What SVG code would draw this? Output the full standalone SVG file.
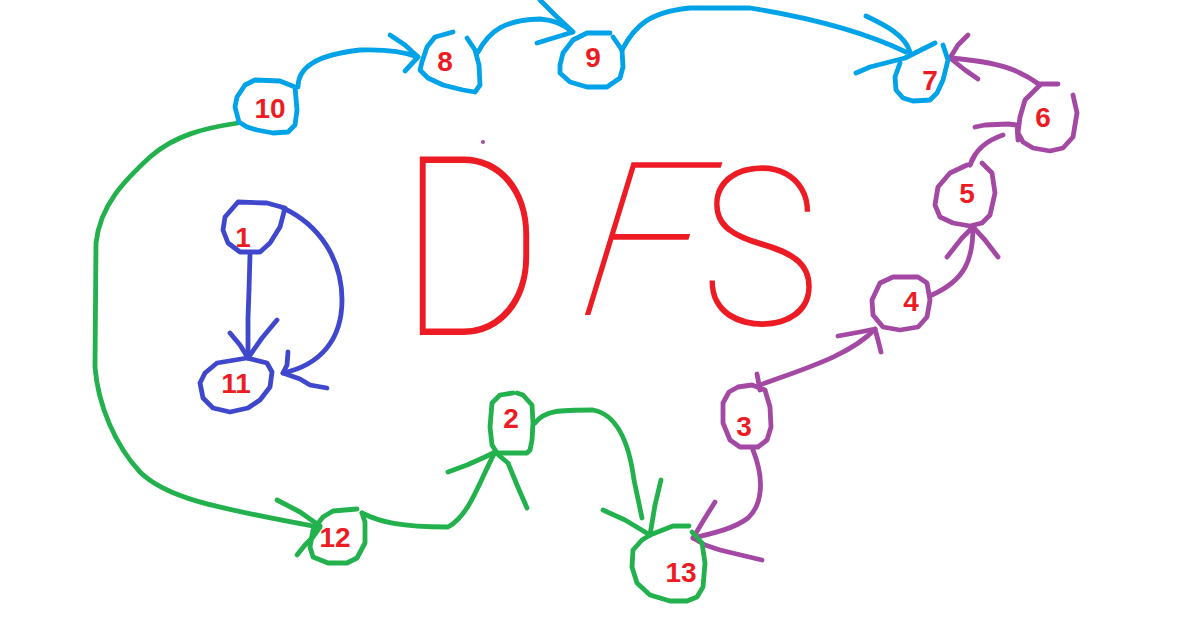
<svg xmlns="http://www.w3.org/2000/svg" width="1200" height="630" viewBox="0 0 1200 630">
<style>
  .s { fill: none; stroke-width: 4.8; stroke-linecap: round; stroke-linejoin: round; }
  .lb { stroke: #00A2E8; }
  .gr { stroke: #22B14C; }
  .pu { stroke: #A349A4; }
  .ib { stroke: #3F48CC; }
  .num { font-family: "Liberation Sans", Arial, sans-serif; font-weight: bold; font-size: 28px; fill: #ED1C24; text-anchor: middle; }
  .big { font-family: Roboto, "Open Sans", "DejaVu Sans", sans-serif; font-weight: 100; fill: #ED1C24; }
</style>
<rect width="1200" height="630" fill="#ffffff"/>

<g id="connectors">
  <!-- 10 -> 8 -->
  <path class="s lb" d="M298,87 C298,68 315,55 360,50 C390,49 405,52 418,57"/>
  <path class="s lb" d="M390,35 L405,45 L418,57 L405,71"/>
  <!-- 8 -> 9 -->
  <path class="s lb" d="M478,52 C490,30 505,20 540,19 C555,20 565,25 572,32"/>
  <path class="s lb" d="M540,0 L555,15 L573,32 L537,43"/>
  <!-- 9 -> 7 -->
  <path class="s lb" d="M622,50 C635,25 650,12 690,8 L750,8 C800,16 860,30 906,52"/>
  <path class="s lb" d="M866,16 C885,25 905,35 910,52"/>
  <path class="s lb" d="M856,73 L870,67 L905,58 L935,43"/>
  <!-- 6 -> 7 -->
  <path class="s pu" d="M1040,85 C1020,70 1000,62 950,58"/>
  <path class="s pu" d="M968,35 L958,45 L950,58 L965,70 L978,79"/>
  <!-- 5 -> 6 -->
  <path class="s pu" d="M970,165 C975,150 988,140 1003,135"/>
  <path class="s pu" d="M975,127 L985,125 L1008,124 L1017,125 L1018,140"/>
  <!-- 4 -> 5 -->
  <path class="s pu" d="M932,295 C965,280 973,260 973,227"/>
  <path class="s pu" d="M947,257 L962,238 L973,227 L985,240 L998,257"/>
  <!-- 3 -> 4 -->
  <path class="s pu" d="M760,385 C800,370 850,356 875,329"/>
  <path class="s pu" d="M838,336 L860,332 L875,329 L878,340 L881,352"/>
  <path class="s pu" d="M757,374 L760,390"/>
  <!-- 3 -> 13 -->
  <path class="s pu" d="M753,450 C765,480 762,505 748,518 C735,528 715,533 693,538"/>
  <path class="s pu" d="M715,502 L705,518 L693,538 L705,545 L720,550 L745,556 L762,560"/>
  <!-- 10 -> 12 -->
  <path class="s gr" d="M238,123 C205,128 175,135 150,157 C125,180 100,205 96,243 L95,367 C98,405 115,445 140,472 C165,497 210,507 318,527"/>
  <path class="s gr" d="M277,500 L300,512 L320,526"/>
  <path class="s gr" d="M297,555 L305,545 L313,537 L320,527"/>
  <!-- 12 -> 2 -->
  <path class="s gr" d="M362,513 C380,522 400,527 448,527 C470,515 480,480 495,452"/>
  <path class="s gr" d="M448,472 L467,465 L485,457 L495,452 L508,463 L517,485 L527,508"/>
  <!-- 2 -> 13 -->
  <path class="s gr" d="M535,423 C545,410 560,410 593,410 C620,415 630,450 634,480 L642,518"/>
  <path class="s gr" d="M661,480 L655,505 L650,535"/>
  <path class="s gr" d="M603,510 L625,520 L650,535"/>
  <!-- 1 -> 11 straight -->
  <path class="s ib" d="M250,255 L249,290 L248,318 L248,358"/>
  <path class="s ib" d="M230,333 L240,345 L248,358 L262,338 L277,320"/>
  <!-- 1 -> 11 curved -->
  <path class="s ib" d="M283,208 C320,225 342,260 342,300 C342,340 320,365 283,373"/>
  <path class="s ib" d="M288,352 L287,365 L283,373 L300,379 L310,385 L327,388"/>
</g>

<g id="node-10">
  <path class="s lb" d="M239,122 L235,107 L237,97 L245,85 L255,80 L280,81 L295,87 L297,110 L295,125 L288,132 L273,133 L257,130 L247,127 Z"/>
  <text class="num" x="270" y="118">10</text>
</g>
<g id="node-8">
  <path class="s lb" d="M453,32 L435,37 L427,47 L422,62 L420,70 L428,78 L443,85 L463,90 L475,92 L480,85 L479,65 L475,50 L467,38"/>
  <text class="num" x="445" y="71">8</text>
</g>
<g id="node-9">
  <path class="s lb" d="M610,33 L587,33 L573,40 L563,53 L560,65 L560,73 L570,82 L587,87 L607,87 L620,78 L623,67 L622,50 L613,37"/>
  <text class="num" x="593" y="67">9</text>
</g>
<g id="node-7">
  <path class="s lb" d="M900,63 L895,77 L896,90 L903,98 L913,101 L930,100 L937,93 L943,80 L948,60 L943,45"/>
  <text class="num" x="930" y="90">7</text>
</g>
<g id="node-6">
  <path class="s pu" d="M1040,85 L1025,100 L1020,117 L1018,133 L1023,142 L1033,148 L1050,151 L1063,148 L1073,137 L1077,113 L1073,95"/>
  <path class="s pu" d="M1038,84 L1058,84"/>
  <text class="num" x="1043" y="127">6</text>
</g>
<g id="node-5">
  <path class="s pu" d="M982,163 L992,173 L995,193 L990,215 L982,223 L970,226 L953,223 L940,217 L935,205 L938,187 L950,173 L967,165"/>
  <path class="s pu" d="M970,165 L975,155"/>
  <text class="num" x="967" y="203">5</text>
</g>
<g id="node-4">
  <path class="s pu" d="M880,283 L893,277 L918,277 L927,283 L930,300 L927,317 L918,327 L900,330 L883,327 L873,315 L872,300 Z"/>
  <text class="num" x="911" y="311">4</text>
</g>
<g id="node-3">
  <path class="s pu" d="M738,387 L752,385 L765,390 L770,407 L771,427 L767,440 L758,447 L740,447 L730,440 L723,423 L723,403 L729,392 Z"/>
  <text class="num" x="744" y="436">3</text>
</g>
<g id="node-13">
  <path class="s gr" d="M689,526 L673,526 L650,535 L642,540 L633,550 L632,567 L637,583 L650,595 L670,601 L687,601 L697,597 L703,587 L705,563 L702,543 L692,532"/>
  <text class="num" x="681" y="582">13</text>
</g>
<g id="node-2">
  <path class="s gr" d="M517,393 L523,395 L532,405 L533,423 L532,440 L530,450 L527,453 L497,453 L492,445 L490,427 L492,403 L500,395 L513,393"/>
  <text class="num" x="511" y="428">2</text>
</g>
<g id="node-12">
  <path class="s gr" d="M357,509 L333,511 L323,517 L313,530 L310,547 L313,557 L328,563 L347,563 L357,558 L365,543 L365,522 L362,513"/>
  <text class="num" x="335" y="547">12</text>
</g>
<g id="node-1">
  <path class="s ib" d="M238,202 L267,203 L285,208 L280,227 L270,243 L260,252 L240,252 L228,243 L223,230 L225,217 Z"/>
  <text class="num" x="243" y="247">1</text>
</g>
<g id="node-11">
  <path class="s ib" d="M247,358 L267,363 L272,372 L270,387 L260,400 L248,408 L230,412 L213,408 L203,398 L200,383 L205,373 L217,363 Z"/>
  <text class="num" x="236" y="393">11</text>
</g>

<g id="title">
  <text class="big" x="398" y="335" font-size="250" textLength="146" lengthAdjust="spacingAndGlyphs">D</text>
  <text class="big" x="661" y="315" font-size="215" textLength="118" lengthAdjust="spacingAndGlyphs" transform="skewX(-17)">F</text>
  <text class="big" x="700" y="325" font-size="220" textLength="120" lengthAdjust="spacingAndGlyphs">S</text>
  <circle cx="483" cy="142" r="2" fill="#A349A4"/>
</g>
</svg>
